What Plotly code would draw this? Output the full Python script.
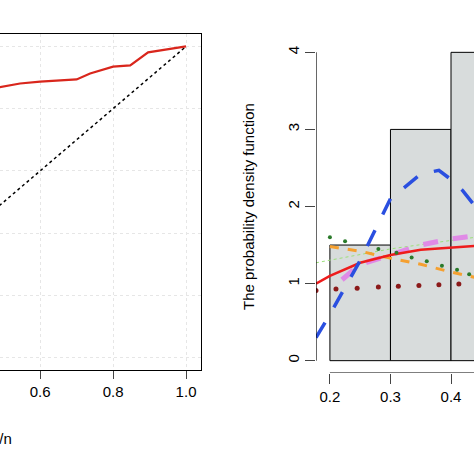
import plotly.graph_objects as go

# Left panel data
pp_x = [0.40, 0.49, 0.545, 0.60, 0.70, 0.737, 0.80, 0.847, 0.896, 1.0]
pp_y = [0.85, 0.868, 0.881, 0.887, 0.894, 0.913, 0.935, 0.939, 0.981, 1.0]
diag = [0.0, 1.0]
# Right panel data
bin_centers = [0.25, 0.35, 0.45, 0.55]
bin_heights = [1.5, 3.0, 4.0, 3.0]
cx = [0.177, 0.2, 0.25, 0.3, 0.35, 0.38, 0.4, 0.42, 0.44]
red_y = [1.0, 1.1, 1.27, 1.37, 1.44, 1.46, 1.47, 1.48, 1.49]
blue_y = [0.3, 0.6, 1.3, 2.1, 2.42, 2.47, 2.35, 2.2, 2.0]
violet_x = [0.22, 0.25, 0.3, 0.35, 0.4, 0.44]
violet_y = [1.05, 1.25, 1.37, 1.5, 1.58, 1.62]
orange_x = [0.2, 0.25, 0.3, 0.35, 0.4, 0.44]
orange_y = [1.48, 1.42, 1.33, 1.25, 1.15, 1.08]
green_x = [0.2, 0.225, 0.28, 0.31, 0.335, 0.36, 0.385, 0.41, 0.43]
green_y = [1.6, 1.55, 1.45, 1.4, 1.34, 1.29, 1.23, 1.18, 1.12]
lgreen_x = [0.177, 0.3, 0.4, 0.44]
lgreen_y = [1.27, 1.45, 1.56, 1.6]
dred_x = [0.177, 0.21, 0.245, 0.28, 0.313, 0.347, 0.38, 0.413, 0.446]
dred_y = [0.91, 0.93, 0.94, 0.955, 0.965, 0.975, 0.985, 0.995, 1.005]

fig = go.Figure()
fig.add_trace(go.Scatter(x=diag, y=diag, mode="lines", line=dict(color="black", width=1.5, dash="dot"), xaxis="x", yaxis="y"))
fig.add_trace(go.Scatter(x=pp_x, y=pp_y, mode="lines", line=dict(color="#d9261c", width=2.2), xaxis="x", yaxis="y"))

fig.add_trace(go.Bar(x=bin_centers, y=bin_heights, width=0.1, marker=dict(color="#d8dcdc", line=dict(color="black", width=1)), xaxis="x2", yaxis="y2"))
fig.add_trace(go.Scatter(x=lgreen_x, y=lgreen_y, mode="lines", line=dict(color="#9be07a", width=1, dash="dot"), xaxis="x2", yaxis="y2"))
fig.add_trace(go.Scatter(x=violet_x, y=violet_y, mode="lines", line=dict(color="#e08ae6", width=5, dash="dash"), xaxis="x2", yaxis="y2"))
fig.add_trace(go.Scatter(x=orange_x, y=orange_y, mode="lines", line=dict(color="#f5a030", width=3, dash="dash"), xaxis="x2", yaxis="y2"))
fig.add_trace(go.Scatter(x=cx, y=red_y, mode="lines", line=dict(color="#ee1c1c", width=2.5), xaxis="x2", yaxis="y2"))
fig.add_trace(go.Scatter(x=green_x, y=green_y, mode="markers", marker=dict(color="#2a7a2a", size=4), xaxis="x2", yaxis="y2"))
fig.add_trace(go.Scatter(x=dred_x, y=dred_y, mode="markers", marker=dict(color="#8b1a1a", size=5), xaxis="x2", yaxis="y2"))
fig.add_trace(go.Scatter(x=cx, y=blue_y, mode="lines", line=dict(color="#2a4fe0", width=3.5, dash="longdash"), xaxis="x2", yaxis="y2"))

tf = dict(family="Liberation Sans, Arial", size=15, color="black")
fig.update_layout(
    width=474, height=474, margin=dict(l=0, r=0, t=0, b=0),
    paper_bgcolor="white", plot_bgcolor="white", showlegend=False, font=tf,
    xaxis=dict(domain=[0, 201/474], range=[0.49, 1.041], tickvals=[0.6, 0.8, 1.0], ticktext=["0.6", "0.8", "1.0"],
               ticks="outside", ticklen=8, showgrid=True, gridcolor="#e6e6e6", griddash="dot", automargin=False,
               showline=True, linecolor="black", mirror=True, zeroline=False, tickfont=tf),
    yaxis=dict(domain=[1-370/474, 1-34/474], range=[-0.04, 1.04], tickvals=[0, 0.2, 0.4, 0.6, 0.8, 1.0], automargin=False,
               showticklabels=False, showgrid=True, gridcolor="#e6e6e6", griddash="dot",
               showline=True, linecolor="black", mirror=True, zeroline=False),
    xaxis2=dict(domain=[316/474, 1], range=[0.177, 0.438], tickvals=[0.2, 0.3, 0.4], ticktext=["0.2", "0.3", "0.4"],
                anchor="y2", ticks="outside", ticklen=10, showgrid=False, zeroline=False, tickfont=tf, automargin=False),
    yaxis2=dict(domain=[1-373/474, 1-40/474], range=[-0.16, 4.16], tickvals=[0, 1, 2, 3, 4], anchor="x2", automargin=False,
                ticks="outside", ticklen=10, tickangle=-90, showgrid=False, zeroline=False, tickfont=tf,
                title=dict(text="The probability density function", font=tf, standoff=26)),
    shapes=[
        dict(type="line", xref="x2", yref="y2", x0=0.177, x1=0.177, y0=0, y1=4, line=dict(color="black", width=1.2)),
        dict(type="line", xref="x2", yref="y2", x0=0.2, x1=0.5, y0=-0.16, y1=-0.16, line=dict(color="black", width=1.2)),
    ],
    annotations=[
        dict(text="i/n", xref="paper", yref="paper", x=14/474, y=1-438/474, xanchor="right", yanchor="middle", showarrow=False, font=tf),
    ],
)
fig.write_html("out.html", config={"displayModeBar": False},
               post_script="document.body.style.margin='0';document.body.style.overflow='hidden';")
